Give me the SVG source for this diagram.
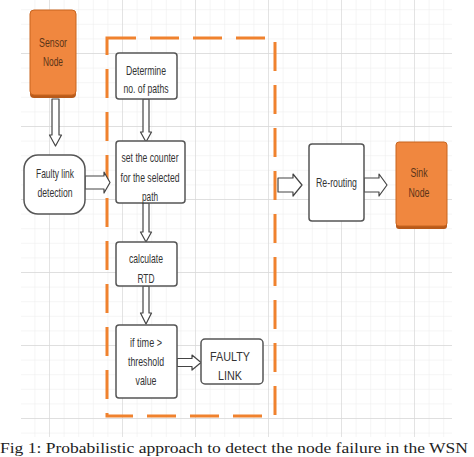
<svg xmlns="http://www.w3.org/2000/svg" width="474" height="457" viewBox="0 0 474 457">
<style>
.box{fill:#fff;stroke:#555;stroke-width:1.5}
.orange{fill:#F0873F;stroke:#C8651F;stroke-width:1}
.shadow{fill:#B85A1A}
.arrow{fill:#fff;stroke:#444;stroke-width:1.2;stroke-linejoin:round}
.t{font-family:"Liberation Sans",Arial,sans-serif;font-size:13.5px;fill:#333;text-anchor:middle}
.to{font-family:"Liberation Sans",Arial,sans-serif;font-size:13.5px;fill:#5a3418;text-anchor:middle}
.cap{font-family:"Liberation Serif","Times New Roman",serif;font-size:15px;fill:#222}
</style>
<defs>
<pattern id="minor" width="14.6" height="14.6" patternUnits="userSpaceOnUse" x="49" y="53">
<path d="M0,0 H14.6 M0,0 V14.6" fill="none" stroke="#ebebeb" stroke-width="1"/>
</pattern>
<pattern id="major" width="73" height="73" patternUnits="userSpaceOnUse" x="49" y="53">
<path d="M0,0 H73 M0,0 V73" fill="none" stroke="#d8d8d8" stroke-width="1.3"/>
</pattern>
</defs>
<rect width="474" height="457" fill="#fff"/>
<g id="grid">
<rect x="21" y="0" width="431" height="437" fill="url(#minor)"/>
<rect x="21" y="0" width="431" height="437" fill="url(#major)"/>
</g>
<g id="group-box">
<rect x="107" y="38" width="168" height="378" fill="none" stroke="#F0822E" stroke-width="3" stroke-dasharray="29 14"/>
</g>
<g id="connectors">
<path class="arrow" d="M52,99 H59 V135 H61.5 L55.5,146 L49.5,135 H52 Z"/>
<path class="arrow" d="M85,176 H104 V172 L110,182.5 L104,193 V189 H85 Z"/>
<path class="arrow" d="M143,99 H149 V132 H151.5 L146,142 L140.5,132 H143 Z"/>
<path class="arrow" d="M143,203 H149 V232 H151.5 L146,242 L140.5,232 H143 Z"/>
<path class="arrow" d="M143,286 H149 V313 H151.5 L146,324 L140.5,313 H143 Z"/>
<path class="arrow" d="M177,358.5 H192 V355 L201,362.5 L192,370 V366.5 H177 Z"/>
<path class="arrow" d="M278,178 H293 V174 L302,185 L293,196 V192 H278 Z"/>
<path class="arrow" d="M364,178 H379 V174 L387,185 L379,196 V192 H364 Z"/>
</g>
<g id="sensor-node">
<rect class="shadow" x="30" y="12" width="46" height="86" rx="4"/>
<rect class="orange" x="30" y="10" width="46" height="85" rx="4"/>
<text class="to" x="53" y="47" textLength="28" lengthAdjust="spacingAndGlyphs">Sensor</text>
<text class="to" x="53" y="66" textLength="20" lengthAdjust="spacingAndGlyphs">Node</text>
</g>
<g id="faulty-link-detection">
<rect class="box" x="24" y="155" width="61" height="59" rx="14"/>
<text class="t" x="55" y="178" textLength="38" lengthAdjust="spacingAndGlyphs">Faulty link</text>
<text class="t" x="55" y="197" textLength="35" lengthAdjust="spacingAndGlyphs">detection</text>
</g>
<g id="determine">
<rect class="box" x="116" y="53" width="61" height="46" rx="3"/>
<text class="t" x="146" y="75" textLength="40" lengthAdjust="spacingAndGlyphs">Determine</text>
<text class="t" x="146" y="93" textLength="45" lengthAdjust="spacingAndGlyphs">no. of paths</text>
</g>
<g id="set-counter">
<rect class="box" x="116" y="141" width="69" height="62" rx="3"/>
<text class="t" x="150" y="162" textLength="57" lengthAdjust="spacingAndGlyphs">set the counter</text>
<text class="t" x="150" y="182" textLength="59" lengthAdjust="spacingAndGlyphs">for the selected</text>
<text class="t" x="150" y="201" textLength="16" lengthAdjust="spacingAndGlyphs">path</text>
</g>
<g id="calculate-rtd">
<rect class="box" x="116" y="242" width="61" height="44" rx="3"/>
<text class="t" x="146" y="263" textLength="34" lengthAdjust="spacingAndGlyphs">calculate</text>
<text class="t" x="146" y="283" textLength="17" lengthAdjust="spacingAndGlyphs">RTD</text>
</g>
<g id="if-time">
<rect class="box" x="116" y="325" width="61" height="73" rx="3"/>
<text class="t" x="146" y="347" textLength="32" lengthAdjust="spacingAndGlyphs">if time &gt;</text>
<text class="t" x="146" y="366" textLength="36" lengthAdjust="spacingAndGlyphs">threshold</text>
<text class="t" x="146" y="385" textLength="21" lengthAdjust="spacingAndGlyphs">value</text>
</g>
<g id="faulty-link">
<rect class="box" x="201" y="339" width="62" height="45" rx="4"/>
<text class="t" x="230" y="361" textLength="40" lengthAdjust="spacingAndGlyphs">FAULTY</text>
<text class="t" x="230" y="380" textLength="24" lengthAdjust="spacingAndGlyphs">LINK</text>
</g>
<g id="re-routing">
<rect class="box" x="309" y="144" width="55" height="77" rx="3"/>
<text class="t" x="336.5" y="187" textLength="41" lengthAdjust="spacingAndGlyphs">Re-routing</text>
</g>
<g id="sink-node">
<rect class="shadow" x="396" y="144" width="51" height="85" rx="3"/>
<rect class="orange" x="396" y="142" width="51" height="84" rx="3"/>
<text class="to" x="419" y="177" textLength="17" lengthAdjust="spacingAndGlyphs">Sink</text>
<text class="to" x="419" y="197" textLength="21" lengthAdjust="spacingAndGlyphs">Node</text>
</g>
<text class="cap" x="0" y="453" textLength="468" lengthAdjust="spacingAndGlyphs">Fig 1: Probabilistic approach to detect the node failure in the WSN</text>
</svg>
